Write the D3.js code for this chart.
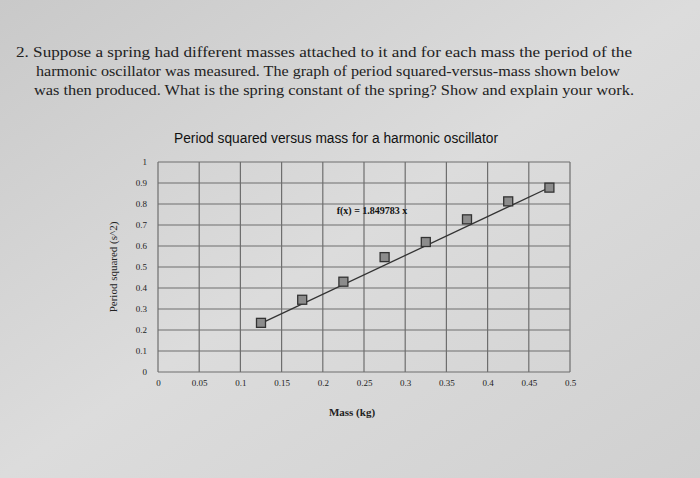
<!DOCTYPE html>
<html><head><meta charset="utf-8">
<script src="https://cdn.jsdelivr.net/npm/d3@7"></script>
<style>body{margin:0;background:#d6d6d6}</style></head>
<body><div id="chart"></div>
<script>
const mass = [0.125, 0.175, 0.225, 0.275, 0.325, 0.375, 0.425, 0.475];
const periodSq = [0.234, 0.344, 0.43, 0.547, 0.619, 0.727, 0.8125, 0.878];
const slope = 1.849783;
const xTicks = [0, 0.05, 0.1, 0.15, 0.2, 0.25, 0.3, 0.35, 0.4, 0.45, 0.5];
const yTicks = [0, 0.1, 0.2, 0.3, 0.4, 0.5, 0.6, 0.7, 0.8, 0.9, 1];
const question = [
  ["2.  Suppose a spring had different masses attached to it and for each mass the period of the", 16, 616],
  ["harmonic oscillator was measured.  The graph of period squared-versus-mass shown below", 36, 584],
  ["was then produced.  What is the spring constant of the spring? Show and explain your work.", 34, 600]
];

const svg = d3.select("#chart").append("svg").attr("width", 700).attr("height", 478);
const grad = svg.append("defs").append("linearGradient").attr("id", "bg")
  .attr("x1", 0).attr("y1", 0).attr("x2", 1).attr("y2", 1);
grad.append("stop").attr("offset", 0).attr("stop-color", "#c9c9c9");
grad.append("stop").attr("offset", 0.5).attr("stop-color", "#dcdcdc");
grad.append("stop").attr("offset", 1).attr("stop-color", "#d0d0d0");
svg.append("rect").attr("width", 700).attr("height", 478).attr("fill", "url(#bg)");

const serif = "'Liberation Serif', 'DejaVu Serif', serif";
svg.selectAll(".q").data(question).join("text")
  .attr("x", d => d[1])
  .attr("y", (d, i) => 57 + i * 19)
  .attr("textLength", d => d[2]).attr("lengthAdjust", "spacingAndGlyphs")
  .attr("font-family", serif).attr("font-size", 14.5).attr("fill", "#222")
  .text(d => d[0]);

svg.append("text").attr("x", 174).attr("y", 143)
  .attr("textLength", 324).attr("lengthAdjust", "spacingAndGlyphs")
  .attr("font-family", "'Liberation Sans Narrow', 'Liberation Sans', sans-serif")
  .attr("font-size", 14).attr("fill", "#111")
  .text("Period squared versus mass for a harmonic oscillator");

const x = d3.scaleLinear().domain([0, 0.5]).range([158, 570]);
const y = d3.scaleLinear().domain([0, 1]).range([372, 162]);

const g = svg.append("g");
g.selectAll(".vg").data(xTicks).join("line")
  .attr("x1", d => x(d)).attr("x2", d => x(d)).attr("y1", y(0)).attr("y2", y(1))
  .attr("stroke", "#6e6e6e").attr("stroke-width", 1.2);
g.selectAll(".hg").data(yTicks).join("line")
  .attr("x1", x(0)).attr("x2", x(0.5)).attr("y1", d => y(d)).attr("y2", d => y(d))
  .attr("stroke", "#6e6e6e").attr("stroke-width", 1.2);

const fmt = d => d === 0 ? "0" : String(d);
const xAxis = g.append("g").attr("transform", `translate(0,${y(0) + 5})`)
  .call(d3.axisBottom(x).tickValues(xTicks).tickFormat(fmt).tickSize(0));
const yAxis = g.append("g").attr("transform", `translate(${x(0) - 8},0)`)
  .call(d3.axisLeft(y).tickValues(yTicks).tickFormat(fmt).tickSize(0));
[xAxis, yAxis].forEach(a => {
  a.select(".domain").remove();
  a.selectAll("text").attr("font-family", serif).attr("font-size", 9).attr("fill", "#222");
});

svg.append("text").attr("x", 352).attr("y", 416).attr("text-anchor", "middle")
  .attr("font-family", serif).attr("font-size", 11).attr("font-weight", "bold").attr("fill", "#222")
  .text("Mass (kg)");
svg.append("text").attr("transform", `translate(117,267) rotate(-90)`).attr("text-anchor", "middle")
  .attr("font-family", serif).attr("font-size", 11).attr("fill", "#222")
  .text("Period squared (s^2)");

const x0 = d3.min(mass), x1 = d3.max(mass);
g.append("line").attr("x1", x(x0)).attr("y1", y(slope * x0)).attr("x2", x(x1)).attr("y2", y(slope * x1))
  .attr("stroke", "#333").attr("stroke-width", 1.3);

g.selectAll(".pt").data(mass).join("rect")
  .attr("x", (d) => x(d) - 4.5).attr("y", (d, i) => y(periodSq[i]) - 4.5)
  .attr("width", 9).attr("height", 9)
  .attr("fill", "#8c8c8c").attr("stroke", "#333").attr("stroke-width", 1.3);

svg.append("text").attr("x", 372).attr("y", 214).attr("text-anchor", "middle")
  .attr("font-family", serif).attr("font-size", 10).attr("font-weight", "bold").attr("fill", "#111")
  .text("f(x) = 1.849783 x");
</script></body></html>
